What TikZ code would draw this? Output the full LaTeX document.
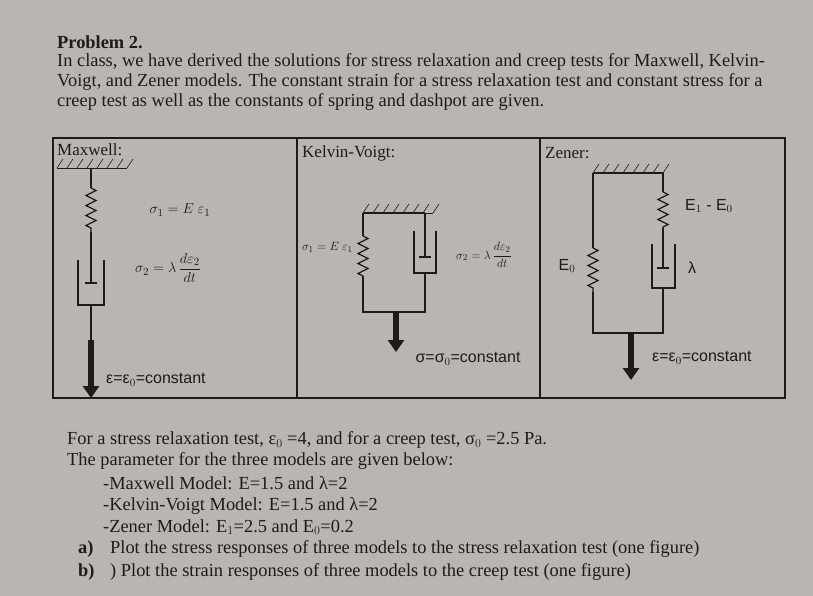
\documentclass[tikz,border=0pt]{standalone}
\usepackage{fontspec}
\setmainfont{Liberation Serif}
\newfontfamily\sansf{Liberation Sans}
\usetikzlibrary{decorations.pathmorphing,arrows.meta}
\definecolor{paper}{HTML}{B9B5B1}
\definecolor{ink}{HTML}{1E1B1C}
\tikzset{
 txt/.style={anchor=west,inner sep=0pt,text=ink,font=\fontsize{18.4}{21}\selectfont},
 lbl/.style={inner sep=0pt,text=ink,font=\fontsize{15}{17}\selectfont\itshape},
 slbl/.style={inner sep=0pt,text=ink,font=\sansf\fontsize{16}{18}\selectfont},
 wire/.style={ink,line width=1.2pt},
 spring/.style={ink,line width=1.2pt,decorate,decoration={zigzag,amplitude=5pt,segment length=10pt,pre length=0pt,post length=0pt}},
 bigarrow/.style={ink,line width=6pt,-{Triangle[length=12pt,width=16pt]}},
 hatch/.style={ink,line width=0.6pt}
}
\newcommand{\hatchrow}[3]{% x1 x2 y
 \draw[hatch] (#1,#3) -- (#2,#3);
 \pgfmathsetmacro{\nn}{int((#2-#1)/10)}
 \foreach \k in {0,...,\nn}{\draw[hatch] (#1+\k*10,#3) -- (#1+\k*10+6,#3-9);}
}
\begin{document}
\begin{tikzpicture}[x=1pt,y=-1pt]
\fill[paper] (0,0) rectangle (813,596);
\useasboundingbox (0,0) rectangle (813,596);
% header text
\node[txt,font=\bfseries\fontsize{18.4}{21}\selectfont] (t0) at (57,42) {Problem 2.};
\node[txt] (t1) at (57,62) {In class, we have derived the solutions for stress relaxation and creep tests for Maxwell, Kelvin-};
\node[txt] (t2) at (57,82) {Voigt, and Zener models. The constant strain for a stress relaxation test and constant stress for a};
\node[txt] (t3) at (57,102) {creep test as well as the constants of spring and dashpot are given.};
% frame
\draw[wire] (53,138) rectangle (785,398);
\draw[wire] (297,138) -- (297,398);
\draw[wire] (540,138) -- (540,398);
\node[txt,font=\fontsize{17}{19}\selectfont] (h1) at (57,150) {Maxwell:};
\node[txt,font=\fontsize{17}{19}\selectfont] (h2) at (302,153) {Kelvin-Voigt:};
\node[txt,font=\fontsize{17}{19}\selectfont] (h3) at (545,153) {Zener:};
% Maxwell
\hatchrow{57}{127}{168}
\coordinate (m0) at (91,168); \coordinate (m1) at (91,188); \coordinate (m2) at (91,232);
\coordinate (m3) at (91,283); \coordinate (m4) at (91,305); \coordinate (m5) at (91,398);
\draw[wire] (m0) -- (m1);
\draw[spring] (m1) -- (m2);
\draw[wire] (m2) -- (m3);
\draw[wire] (85,283) -- (97,283);
\draw[wire] (78,260) -- (78,305) -- (104,305) -- (104,260);
\draw[wire] (m4) -- (91,340);
\draw[bigarrow] (91,340) -- (m5);
\node[lbl] (ma) at (180,210) {$\sigma_1 = E\ \varepsilon_1$};
\node[lbl] (mb) at (168,268) {$\sigma_2 = \lambda\,\displaystyle\frac{d\varepsilon_2}{dt}$};
\node[slbl,anchor=west] (mc) at (106,380) {ε=ε$_0$=constant};
% Kelvin-Voigt
\hatchrow{363}{433}{213}
\coordinate (k0) at (363,213); \coordinate (k1) at (425,213);
\draw[wire] (k0) -- (k1);
\draw[wire] (k0) -- (363,236);
\draw[spring] (363,236) -- (363,276);
\draw[wire] (363,276) -- (363,312) -- (425,312) -- (425,273);
\draw[wire] (425,213) -- (425,257);
\draw[wire] (419,257) -- (431,257);
\draw[wire] (414,231) -- (414,273) -- (436,273) -- (436,231);
\draw[bigarrow] (396,312) -- (396,352);
\node[lbl,anchor=east,font=\fontsize{12.5}{14}\selectfont] (ka) at (353,247) {$\sigma_1 = E\ \varepsilon_1$};
\node[lbl,font=\fontsize{13}{15}\selectfont] (kb) at (484,255) {$\sigma_2 = \lambda\,\displaystyle\frac{d\varepsilon_2}{dt}$};
\node[slbl] (kc) at (468,359) {σ=σ$_0$=constant};
% Zener
\hatchrow{593}{663}{173}
\draw[wire] (593,173) -- (663,173);
\draw[wire] (593,173) -- (593,248);
\draw[spring] (593,248) -- (593,292);
\draw[wire] (593,292) -- (593,333) -- (663,333) -- (663,288);
\draw[wire] (663,173) -- (663,192);
\draw[spring] (663,192) -- (663,228);
\draw[wire] (663,228) -- (663,268);
\draw[wire] (657,268) -- (669,268);
\draw[wire] (652,244) -- (652,288) -- (675,288) -- (675,244);
\draw[bigarrow] (631,333) -- (631,380);
\node[slbl,anchor=west] (za) at (685,206) {E$_1$ - E$_0$};
\node[slbl] (zb) at (567,266) {E$_0$};
\node[slbl] (zc) at (692,268) {λ};
\node[slbl,anchor=west] (zd) at (652,358) {ε=ε$_0$=constant};
% bottom text
\node[txt] (b1) at (67,440) {For a stress relaxation test, ε$_0$ =4, and for a creep test, σ$_0$ =2.5 Pa.};
\node[txt] (b2) at (67,461) {The parameter for the three models are given below:};
\node[txt] (b3) at (103,483) {-Maxwell Model: E=1.5 and λ=2};
\node[txt] (b4) at (103,506) {-Kelvin-Voigt Model: E=1.5 and λ=2};
\node[txt] (b5) at (103,527) {-Zener Model: E$_1$=2.5 and E$_0$=0.2};
\node[txt,font=\bfseries\fontsize{18.4}{21}\selectfont] (b6) at (78,549) {a)};
\node[txt] (b6t) at (110,549) {Plot the stress responses of three models to the stress relaxation test (one figure)};
\node[txt,font=\bfseries\fontsize{18.4}{21}\selectfont] (b7) at (78,572) {b)};
\node[txt] (b7t) at (110,572) {) Plot the strain responses of three models to the creep test (one figure)};
\end{tikzpicture}
\end{document}
